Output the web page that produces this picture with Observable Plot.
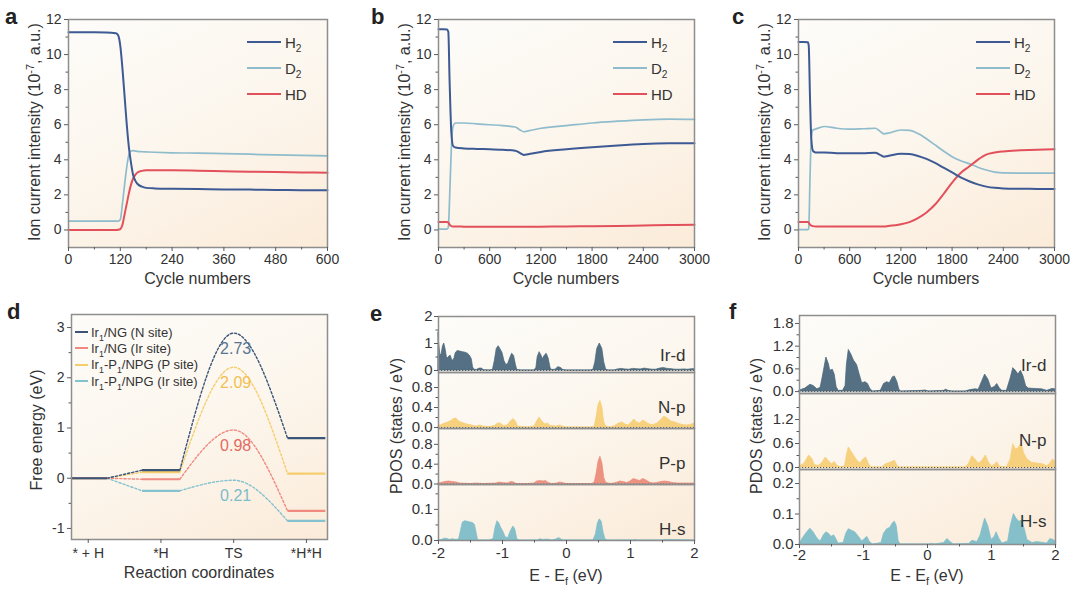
<!DOCTYPE html>
<html>
<head>
<meta charset="utf-8">
<script src="https://cdn.jsdelivr.net/npm/d3@7"></script>
<script src="https://cdn.jsdelivr.net/npm/@observablehq/plot@0.6"></script>
<style>
  body { margin: 0; background: #fff; }
  #fig { position: relative; width: 1080px; height: 590px; overflow: hidden;
         font-family: "Liberation Sans", Arial, Helvetica, sans-serif; color: #333; }
  .bg { position: absolute; background: linear-gradient(155deg, #fdfcf9 0%, #fcf6ed 50%, #fbebd9 100%); }
  .plot { position: absolute; }
  .letter { position: absolute; font-size: 22px; font-weight: bold; color: #222; line-height: 22px; }
  .title { position: absolute; white-space: nowrap; font-size: 16px; color: #333; line-height: 1; }
  .ytitle { transform: translate(-50%, -50%) rotate(-90deg); }
  .xtitle { transform: translate(-50%, -50%); }
  .legend { position: absolute; color: #333; }
  .legend .row { display: flex; align-items: center; }
  .legend .sw { display: inline-block; }
  sub, sup { font-size: 0.68em; line-height: 0; }
</style>
</head>
<body>
<div id="fig"></div>
<script>
// ---------- panels a–c: ion current vs cycle number ----------
const ionTicks = [0, 2, 4, 6, 8, 10, 12];
const ionMinor = [1, 3, 5, 7, 9, 11];

const cyclesA = [0, 60, 110, 115, 120, 125, 130, 135, 140, 145, 150, 155, 160, 170, 180, 200, 240, 300, 360, 420, 480, 540, 600];
const h2A = [11.28, 11.27, 11.22, 11.1, 10.5, 9.2, 7.6, 6.0, 4.7, 3.8, 3.1, 2.8, 2.62, 2.47, 2.4, 2.37, 2.35, 2.33, 2.31, 2.3, 2.28, 2.27, 2.26];
const d2A = [0.5, 0.5, 0.5, 0.5, 0.6, 1.5, 2.6, 3.6, 4.3, 4.5, 4.52, 4.5, 4.48, 4.46, 4.45, 4.43, 4.4, 4.38, 4.35, 4.32, 4.28, 4.25, 4.22];
const hdA = [0.0, 0.0, 0.0, 0.01, 0.05, 0.3, 0.9, 1.5, 2.1, 2.6, 2.95, 3.15, 3.28, 3.37, 3.4, 3.41, 3.4, 3.38, 3.35, 3.32, 3.3, 3.28, 3.26];
const cycleTicksA = [0, 120, 240, 360, 480, 600];
const cycleMinorA = [60, 180, 300, 420, 540];

const cyclesB = [0, 60, 100, 115, 130, 150, 170, 200, 300, 450, 600, 750, 900, 950, 1000, 1050, 1200, 1500, 1800, 2100, 2400, 2700, 3000];
const h2B = [11.45, 11.45, 11.43, 11.3, 8.5, 5.6, 4.8, 4.7, 4.65, 4.62, 4.6, 4.57, 4.52, 4.4, 4.28, 4.32, 4.45, 4.6, 4.72, 4.82, 4.9, 4.94, 4.95];
const d2B = [0.05, 0.05, 0.05, 0.15, 1.8, 4.6, 5.9, 6.1, 6.1, 6.05, 6.0, 5.95, 5.87, 5.72, 5.6, 5.65, 5.8, 5.95, 6.1, 6.2, 6.28, 6.32, 6.3];
const hdB = [0.45, 0.45, 0.45, 0.42, 0.3, 0.22, 0.2, 0.2, 0.19, 0.18, 0.18, 0.18, 0.18, 0.18, 0.18, 0.18, 0.19, 0.2, 0.21, 0.22, 0.25, 0.28, 0.3];

const cyclesC = [0, 60, 110, 120, 135, 150, 170, 200, 300, 450, 600, 750, 900, 950, 1000, 1050, 1200, 1300, 1400, 1500, 1600, 1700, 1800, 1900, 2000, 2100, 2200, 2300, 2400, 2600, 2800, 3000];
const h2C = [10.72, 10.72, 10.7, 10.5, 7.5, 5.2, 4.5, 4.42, 4.42, 4.38, 4.38, 4.38, 4.4, 4.3, 4.18, 4.22, 4.35, 4.33, 4.22, 4.05, 3.82, 3.55, 3.28, 3.0, 2.78, 2.6, 2.47, 2.4, 2.37, 2.35, 2.34, 2.33];
const d2C = [0.02, 0.02, 0.02, 0.1, 3.0, 5.3, 5.7, 5.75, 5.9, 5.8, 5.75, 5.77, 5.8, 5.65, 5.48, 5.52, 5.7, 5.68, 5.5, 5.2, 4.85, 4.5, 4.18, 3.95, 3.78, 3.58, 3.42, 3.3, 3.25, 3.24, 3.24, 3.24];
const hdC = [0.45, 0.45, 0.45, 0.42, 0.3, 0.25, 0.22, 0.2, 0.2, 0.2, 0.2, 0.2, 0.2, 0.2, 0.2, 0.22, 0.32, 0.45, 0.68, 1.0, 1.45, 2.05, 2.7, 3.25, 3.62, 4.0, 4.3, 4.42, 4.48, 4.54, 4.58, 4.6];
const cycleTicksBC = [0, 600, 1200, 1800, 2400, 3000];
const cycleMinorBC = [300, 900, 1500, 2100, 2700];

const gasColors = { H2: "#3d5a94", D2: "#8fbccc", HD: "#e2505b" };

// ---------- panel d: free-energy profile ----------
const stateNames = ["* + H", "*H", "TS", "*H*H"];
const statePos = [0, 1, 2, 3];
const siteNames = ["Ir<sub>1</sub>/NG (N site)", "Ir<sub>1</sub>/NG (Ir site)", "Ir<sub>1</sub>-P<sub>1</sub>/NPG (P site)", "Ir<sub>1</sub>-P<sub>1</sub>/NPG (Ir site)"];
const siteColors = ["#3b5576", "#f08a80", "#f6cd6e", "#84c2cf"];
const barrierColors = ["#557593", "#e46b5f", "#f2c050", "#7dbccb"];
const eStart = [0, 0, 0, 0];
const eAdsorbed = [0.16, -0.02, 0.12, -0.25];
const barriers = [2.73, 0.98, 2.09, 0.21];
const eFinal = [0.80, -0.65, 0.09, -0.85];
const energyTicks = [-1, 0, 1, 2, 3];
const energyMinor = [-0.5, 0.5, 1.5, 2.5];

// ---------- panels e, f: projected density of states ----------
const energyAxisTicks = [-2, -1, 0, 1, 2];
const energyAxisMinor = [-1.5, -0.5, 0.5, 1.5];

const eIrD = [[-2.00,1.40],[-1.99,1.0],[-1.97,0.55],[-1.95,0.62],[-1.93,0.9],[-1.91,1.0],[-1.89,0.8],[-1.87,0.5],[-1.85,0.45],[-1.83,0.52],[-1.81,0.55],[-1.79,0.42],[-1.77,0.35],[-1.75,0.45],[-1.73,0.65],[-1.70,0.72],[-1.66,0.7],[-1.62,0.68],[-1.58,0.66],[-1.54,0.62],[-1.51,0.55],[-1.48,0.42],[-1.46,0.12],[-1.44,0.03],[-1.40,0.02],[-1.36,0.07],[-1.32,0.07],[-1.29,0.01],[-1.20,0.0],[-1.15,0.02],[-1.12,0.35],[-1.09,0.8],[-1.06,0.9],[-1.03,0.78],[-1.00,0.65],[-0.97,0.35],[-0.94,0.2],[-0.91,0.25],[-0.88,0.45],[-0.85,0.62],[-0.82,0.55],[-0.79,0.2],[-0.77,0.02],[-0.70,0.0],[-0.50,0.0],[-0.47,0.1],[-0.45,0.5],[-0.42,0.68],[-0.39,0.55],[-0.37,0.42],[-0.34,0.55],[-0.31,0.62],[-0.28,0.45],[-0.25,0.1],[-0.23,0.02],[-0.17,0.03],[-0.13,0.12],[-0.09,0.1],[-0.05,0.02],[0.0,0.0],[0.38,0.0],[0.42,0.03],[0.45,0.3],[0.48,0.8],[0.52,1.0],[0.56,0.8],[0.59,0.3],[0.62,0.03],[0.66,0.0],[0.75,0.0],[0.8,0.04],[0.86,0.06],[0.92,0.04],[0.98,0.03],[1.04,0.06],[1.1,0.05],[1.16,0.04],[1.22,0.07],[1.28,0.05],[1.34,0.03],[1.40,0.03],[1.46,0.07],[1.52,0.09],[1.58,0.06],[1.64,0.05],[1.70,0.03],[1.78,0.03],[1.84,0.04],[1.90,0.03],[1.96,0.05],[2.0,0.05]];
const eNP = [[-2.0,0.02],[-1.95,0.05],[-1.9,0.08],[-1.85,0.1],[-1.8,0.13],[-1.76,0.17],[-1.72,0.18],[-1.68,0.12],[-1.64,0.1],[-1.6,0.08],[-1.55,0.06],[-1.5,0.05],[-1.45,0.03],[-1.4,0.02],[-1.35,0.04],[-1.3,0.02],[-1.2,0.01],[-1.12,0.03],[-1.07,0.08],[-1.03,0.08],[-0.98,0.03],[-0.92,0.04],[-0.87,0.12],[-0.83,0.17],[-0.79,0.12],[-0.76,0.02],[-0.6,0.0],[-0.5,0.02],[-0.46,0.12],[-0.42,0.2],[-0.38,0.12],[-0.33,0.06],[-0.29,0.08],[-0.25,0.03],[-0.15,0.02],[-0.1,0.04],[-0.06,0.02],[0.0,0.0],[0.4,0.0],[0.44,0.02],[0.47,0.2],[0.5,0.45],[0.53,0.53],[0.56,0.4],[0.59,0.1],[0.62,0.02],[0.7,0.0],[0.76,0.03],[0.82,0.08],[0.87,0.1],[0.92,0.06],[0.97,0.04],[1.02,0.1],[1.06,0.16],[1.1,0.1],[1.15,0.08],[1.2,0.14],[1.25,0.1],[1.3,0.06],[1.36,0.05],[1.42,0.08],[1.48,0.15],[1.53,0.22],[1.58,0.18],[1.64,0.12],[1.7,0.1],[1.76,0.07],[1.82,0.05],[1.88,0.04],[1.94,0.05],[2.0,0.08]];
const ePP = [[-2.0,0.01],[-1.95,0.02],[-1.9,0.04],[-1.84,0.05],[-1.78,0.04],[-1.72,0.03],[-1.66,0.01],[-1.5,0.0],[-1.4,0.01],[-1.3,0.0],[-1.1,0.01],[-1.05,0.03],[-1.0,0.02],[-0.92,0.01],[-0.86,0.04],[-0.82,0.03],[-0.78,0.0],[-0.6,0.0],[-0.5,0.01],[-0.46,0.05],[-0.41,0.06],[-0.36,0.05],[-0.32,0.06],[-0.28,0.02],[-0.22,0.0],[-0.15,0.01],[-0.1,0.03],[-0.06,0.02],[0.0,0.0],[0.4,0.0],[0.44,0.03],[0.47,0.2],[0.5,0.45],[0.53,0.55],[0.56,0.42],[0.59,0.12],[0.62,0.02],[0.7,0.0],[0.78,0.02],[0.84,0.05],[0.89,0.04],[0.95,0.02],[1.0,0.05],[1.05,0.1],[1.1,0.08],[1.15,0.06],[1.2,0.1],[1.25,0.07],[1.3,0.03],[1.36,0.01],[1.42,0.02],[1.48,0.04],[1.54,0.05],[1.6,0.04],[1.66,0.02],[1.75,0.01],[1.85,0.01],[2.0,0.01]];
const eHS = [[-2.0,0.0],[-1.95,0.002],[-1.9,0.006],[-1.86,0.005],[-1.82,0.002],[-1.78,0.004],[-1.72,0.002],[-1.68,0.003],[-1.65,0.03],[-1.62,0.058],[-1.58,0.062],[-1.54,0.06],[-1.5,0.058],[-1.46,0.056],[-1.43,0.05],[-1.4,0.02],[-1.38,0.0],[-1.2,0.0],[-1.14,0.005],[-1.11,0.04],[-1.08,0.062],[-1.05,0.055],[-1.02,0.04],[-0.99,0.03],[-0.95,0.01],[-0.91,0.008],[-0.87,0.03],[-0.83,0.045],[-0.8,0.035],[-0.77,0.005],[-0.74,0.0],[-0.45,0.0],[-0.41,0.004],[-0.36,0.002],[-0.3,0.003],[-0.22,0.0],[-0.15,0.004],[-0.12,0.008],[-0.09,0.005],[-0.05,0.0],[0.42,0.0],[0.46,0.02],[0.49,0.055],[0.52,0.068],[0.55,0.06],[0.58,0.025],[0.61,0.003],[0.65,0.0],[1.05,0.0],[1.08,0.002],[1.12,0.0],[1.5,0.0],[1.55,0.002],[2.0,0.0]];

const fIrD = [[-2.0,0.03],[-1.96,0.05],[-1.91,0.08],[-1.83,0.18],[-1.78,0.15],[-1.72,0.06],[-1.67,0.1],[-1.64,0.35],[-1.58,0.9],[-1.54,0.72],[-1.52,0.55],[-1.48,0.58],[-1.45,0.45],[-1.42,0.12],[-1.39,0.02],[-1.32,0.02],[-1.28,0.15],[-1.26,0.7],[-1.23,1.1],[-1.19,0.98],[-1.15,0.82],[-1.1,0.7],[-1.06,0.45],[-1.02,0.22],[-0.97,0.25],[-0.93,0.2],[-0.89,0.06],[-0.85,0.0],[-0.73,0.02],[-0.68,0.2],[-0.63,0.25],[-0.59,0.22],[-0.54,0.38],[-0.51,0.4],[-0.47,0.25],[-0.44,0.05],[-0.41,0.0],[-0.08,0.02],[-0.03,0.03],[0.02,0.0],[0.26,0.02],[0.29,0.05],[0.33,0.02],[0.39,0.0],[0.59,0.0],[0.67,0.04],[0.75,0.06],[0.8,0.05],[0.85,0.25],[0.9,0.45],[0.95,0.32],[1.0,0.08],[1.05,0.12],[1.09,0.2],[1.13,0.08],[1.17,0.02],[1.24,0.02],[1.3,0.35],[1.34,0.62],[1.38,0.55],[1.42,0.45],[1.46,0.55],[1.5,0.4],[1.54,0.15],[1.58,0.08],[1.69,0.07],[1.79,0.06],[1.87,0.02],[1.95,0.07],[2.0,0.06]];
const fNP = [[-2.0,0.02],[-1.92,0.1],[-1.85,0.3],[-1.8,0.22],[-1.76,0.06],[-1.7,0.04],[-1.64,0.12],[-1.59,0.25],[-1.54,0.15],[-1.49,0.08],[-1.45,0.14],[-1.41,0.05],[-1.36,0.0],[-1.29,0.03],[-1.26,0.3],[-1.23,0.5],[-1.19,0.4],[-1.15,0.3],[-1.1,0.18],[-1.05,0.1],[-1.0,0.2],[-0.96,0.25],[-0.92,0.1],[-0.88,0.0],[-0.71,0.0],[-0.66,0.07],[-0.58,0.12],[-0.51,0.17],[-0.47,0.05],[-0.44,0.0],[0.6,0.0],[0.65,0.1],[0.7,0.28],[0.74,0.22],[0.8,0.1],[0.85,0.15],[0.91,0.3],[0.96,0.12],[1.01,0.02],[1.06,0.08],[1.09,0.13],[1.13,0.02],[1.24,0.0],[1.3,0.2],[1.34,0.58],[1.38,0.45],[1.42,0.48],[1.47,0.6],[1.51,0.35],[1.56,0.2],[1.63,0.12],[1.71,0.1],[1.8,0.08],[1.87,0.03],[1.92,0.1],[1.96,0.2],[2.0,0.15]];
const fHS = [[-2.0,0.0],[-1.95,0.02],[-1.88,0.04],[-1.83,0.052],[-1.78,0.04],[-1.72,0.02],[-1.67,0.01],[-1.62,0.03],[-1.58,0.04],[-1.54,0.035],[-1.5,0.025],[-1.46,0.03],[-1.43,0.02],[-1.39,0.003],[-1.31,0.005],[-1.27,0.035],[-1.23,0.05],[-1.18,0.045],[-1.13,0.04],[-1.07,0.025],[-1.02,0.01],[-0.97,0.02],[-0.94,0.025],[-0.9,0.008],[-0.85,0.0],[-0.72,0.005],[-0.68,0.035],[-0.63,0.05],[-0.58,0.055],[-0.54,0.07],[-0.51,0.075],[-0.48,0.06],[-0.45,0.01],[-0.42,0.0],[0.02,0.0],[0.07,0.002],[0.12,0.0],[0.26,0.005],[0.31,0.018],[0.36,0.008],[0.41,0.0],[0.65,0.002],[0.7,0.012],[0.78,0.008],[0.83,0.03],[0.9,0.085],[0.95,0.06],[1.0,0.015],[1.05,0.025],[1.08,0.04],[1.12,0.02],[1.17,0.003],[1.26,0.01],[1.3,0.06],[1.35,0.1],[1.39,0.085],[1.43,0.075],[1.48,0.078],[1.52,0.05],[1.56,0.015],[1.64,0.005],[1.71,0.008],[1.79,0.006],[1.87,0.003],[1.92,0.018],[1.97,0.015],[2.0,0.01]];

const orbitalColors = { "Ir-d": "#46647a", "N-p": "#f6cd74", "P-p": "#eb8a78", "H-s": "#7bbcc8" };

// ---------- shared styling ----------
const FONT = '"Liberation Sans", Arial, Helvetica, sans-serif';
const FRAME = "#8e8e8e";
const TICK = "#5a5a5a";
const INK = "#333";
const fig = document.getElementById("fig");
const plain = (d) => String(d);
const oneDec = (d) => d.toFixed(1);

function style(size) {
  return { background: "transparent", fontFamily: FONT, fontSize: size + "px", color: INK, overflow: "visible" };
}
function place(node, left, top) {
  node.classList.add("plot");
  node.style.left = left + "px";
  node.style.top = top + "px";
  fig.appendChild(node);
}
function div(cls, left, top, inner, css = "") {
  const el = document.createElement("div");
  el.className = cls;
  el.style.cssText = `left:${left}px;top:${top}px;${css}`;
  el.innerHTML = inner;
  fig.appendChild(el);
  return el;
}
function backdrop(left, top, width, height) {
  div("bg", left, top, "", `width:${width}px;height:${height}px;`);
}
function majorMinorX(ticks, minor, fmt, size = 4, pad = 3) {
  return [
    Plot.axisX({ ticks, tickFormat: fmt, tickSize: size, tickPadding: pad, stroke: TICK, fill: INK, label: null }),
    Plot.axisX({ ticks: minor, tickSize: 2.5, stroke: TICK, fill: "none", label: null })
  ];
}
function majorMinorY(ticks, minor, fmt, pad = 3) {
  return [
    Plot.axisY({ ticks, tickFormat: fmt, tickSize: 4, tickPadding: pad, stroke: TICK, fill: INK, label: null }),
    Plot.axisY({ ticks: minor, tickSize: 2.5, stroke: TICK, fill: "none", label: null })
  ];
}
function gasLegend(left, top) {
  const rows = [["H2", "H<sub>2</sub>"], ["D2", "D<sub>2</sub>"], ["HD", "HD"]];
  div("legend", left, top, rows.map(([k, t]) =>
    `<div class="row" style="height:26px"><span class="sw" style="width:34px;height:2.5px;background:${gasColors[k]};margin-right:4px"></span><span style="font-size:15px">${t}</span></div>`
  ).join(""));
}

// ---------- a, b, c ----------
function cyclePanel(left, cycles, h2, d2, hd, ticks, minor) {
  const pts = (vals) => cycles.map((c, i) => ({ cycle: c, value: vals[i] }));
  const marginLeft = left === 0 ? 68 : 78;
  const marginRight = left === 0 ? 33 : 26;
  backdrop(left + marginLeft, 19, 360 - marginLeft - marginRight, 228);
  const svg = Plot.plot({
    width: 360, height: 300,
    marginLeft, marginRight, marginTop: 19, marginBottom: 53,
    style: style(14),
    x: { domain: [ticks[0], ticks[ticks.length - 1]] },
    y: { domain: [-1, 12] },
    marks: [
      Plot.line(pts(d2), { x: "cycle", y: "value", stroke: gasColors.D2, strokeWidth: 1.7, curve: "monotone-x" }),
      Plot.line(pts(hd), { x: "cycle", y: "value", stroke: gasColors.HD, strokeWidth: 2, curve: "monotone-x" }),
      Plot.line(pts(h2), { x: "cycle", y: "value", stroke: gasColors.H2, strokeWidth: 2, curve: "monotone-x" }),
      Plot.frame({ stroke: FRAME, strokeWidth: 1.5 }),
      ...majorMinorX(ticks, minor, plain),
      ...majorMinorY(ionTicks, ionMinor, plain)
    ]
  });
  place(svg, left, 0);
  const cx = left + marginLeft + (360 - marginLeft - marginRight) / 2;
  div("title xtitle", cx, 279, "Cycle numbers");
  div("title ytitle", left + marginLeft - 33, 132, "Ion current intensity (10<sup>-7</sup>, a.u.)");
}

cyclePanel(0, cyclesA, h2A, d2A, hdA, cycleTicksA, cycleMinorA);
cyclePanel(360, cyclesB, h2B, d2B, hdB, cycleTicksBC, cycleMinorBC);
cyclePanel(720, cyclesC, h2C, d2C, hdC, cycleTicksBC, cycleMinorBC);
gasLegend(247, 29);
gasLegend(613, 29);
gasLegend(976, 29);

// ---------- d ----------
{
  const half = 0.26;
  const levels = [];
  const paths = [];
  const labels = [];
  siteNames.forEach((site, i) => {
    const ts = eAdsorbed[i] + barriers[i];
    levels.push({ i, x1: statePos[0] - half, x2: statePos[0] + half, y: eStart[i] });
    levels.push({ i, x1: statePos[1] - half, x2: statePos[1] + half, y: eAdsorbed[i] });
    levels.push({ i, x1: statePos[3] - half, x2: statePos[3] + half, y: eFinal[i] });
    paths.push({ i, z: `${i}-a`, x: statePos[0] + half, y: eStart[i] });
    paths.push({ i, z: `${i}-a`, x: statePos[1] - half, y: eAdsorbed[i] });
    paths.push({ i, z: `${i}-b`, x: statePos[1] + half, y: eAdsorbed[i] });
    paths.push({ i, z: `${i}-b`, x: statePos[2], y: ts });
    paths.push({ i, z: `${i}-b`, x: statePos[3] - half, y: eFinal[i] });
    labels.push({ i, x: statePos[2], y: ts, text: barriers[i].toFixed(2) });
  });
  const order = [2, 3, 1, 0]; // dark N-site trace drawn last
  const byOrder = (arr) => order.flatMap((k) => arr.filter((d) => d.i === k));
  backdrop(71, 314, 256, 225);
  const svg = Plot.plot({
    width: 360, height: 290,
    marginLeft: 71, marginRight: 33, marginTop: 14, marginBottom: 51,
    style: style(14),
    x: { domain: [-0.23, 3.29] },
    y: { domain: [-1.22, 3.26] },
    marks: [
      Plot.line(byOrder(paths), { x: "x", y: "y", z: "z", stroke: (d) => siteColors[d.i], strokeWidth: 1.4, strokeDasharray: "2.2 2", curve: "monotone-x", clip: true }),
      Plot.link(byOrder(levels), { x1: "x1", x2: "x2", y1: "y", y2: "y", stroke: (d) => siteColors[d.i], strokeWidth: 2.2, clip: true }),
      Plot.text(labels, { x: "x", y: "y", text: "text", fill: (d) => barrierColors[d.i], dy: 16, dx: 2, fontSize: 16 }),
      Plot.frame({ stroke: FRAME, strokeWidth: 1.5 }),
      Plot.axisX({ ticks: statePos, tickFormat: (d) => stateNames[d], tickSize: 4, tickPadding: 5, stroke: TICK, fill: INK, label: null }),
      ...majorMinorY(energyTicks, energyMinor, plain)
    ]
  });
  place(svg, 0, 300);
  div("legend", 75, 324, siteNames.map((s, i) =>
    `<div class="row" style="height:16.3px"><span class="sw" style="width:13px;height:2px;background:${siteColors[i]};margin-right:3px"></span><span style="font-size:13px">${s}</span></div>`
  ).join(""));
  div("title xtitle", 199, 573, "Reaction coordinates");
  div("title ytitle", 37, 430, "Free energy (eV)");
}

// ---------- e, f ----------
function pdos(left, marginLeft, marginRight, top, height, spec, bottom) {
  const mt = 8, mb = bottom ? 40 : 0;
  const marks = [
    Plot.areaY(spec.data, { x: (d) => d[0], y: (d) => d[1], fill: orbitalColors[spec.orbital], fillOpacity: 0.92,
      stroke: orbitalColors[spec.orbital], strokeWidth: 0.7 }),
    Plot.ruleY([0], { stroke: "#555", strokeWidth: 1, strokeDasharray: "1.2 1.8" }),
    Plot.frame({ stroke: FRAME, strokeWidth: 1.5 }),
    ...majorMinorY(spec.ticks, spec.minor, spec.fmt, 2),
    Plot.text([spec.orbital], { frameAnchor: "right", textAnchor: "end", dx: -9, dy: spec.labelDy, fontSize: 17, fill: INK })
  ];
  if (bottom) marks.push(...majorMinorX(energyAxisTicks, energyAxisMinor, plain, 4, bottom.pad));
  const svg = Plot.plot({
    width: 360, height: mt + height + mb,
    marginLeft, marginRight, marginTop: mt, marginBottom: mb,
    style: style(15),
    x: { domain: [-2, 2], axis: bottom ? undefined : null },
    y: { domain: spec.domain },
    marks
  });
  place(svg, left, top - mt);
}

backdrop(438, 316, 256, 224);
pdos(360, 78, 26, 316, 56, { data: eIrD, orbital: "Ir-d", domain: [-0.074, 2], ticks: [0, 1, 2], minor: [0.5, 1.5], fmt: plain, labelDy: 11 });
pdos(360, 78, 26, 372, 56, { data: eNP, orbital: "N-p", domain: [-0.02, 1.1], ticks: [0, 0.4, 0.8], minor: [0.2, 0.6], fmt: oneDec, labelDy: 7 });
pdos(360, 78, 26, 428, 56, { data: ePP, orbital: "P-p", domain: [-0.01, 1.12], ticks: [0, 0.4, 0.8], minor: [0.2, 0.6], fmt: oneDec, labelDy: 7 });
pdos(360, 78, 26, 484, 56, { data: eHS, orbital: "H-s", domain: [0, 0.18], ticks: [0, 0.1], minor: [0.05, 0.15], fmt: oneDec, labelDy: 17 }, { pad: 3 });
div("title ytitle", 397, 426, "PDOS (states / eV)");
div("title xtitle", 566, 576, "E - E<sub>f</sub> (eV)");

backdrop(799, 315, 256, 229);
pdos(720, 79, 25, 315, 78, { data: fIrD, orbital: "Ir-d", domain: [-0.05, 2.01], ticks: [0, 0.6, 1.2, 1.8], minor: [0.3, 0.9, 1.5], fmt: oneDec, labelDy: 11 });
pdos(720, 79, 25, 393, 76, { data: fNP, orbital: "N-p", domain: [-0.05, 1.85], ticks: [0, 0.6, 1.2], minor: [0.3, 0.9, 1.5], fmt: oneDec, labelDy: 9 });
pdos(720, 79, 25, 469, 75, { data: fHS, orbital: "H-s", domain: [0, 0.246], ticks: [0, 0.1, 0.2], minor: [0.05, 0.15], fmt: oneDec, labelDy: 15 }, { pad: 1 });
div("title ytitle", 757, 426, "PDOS (states / eV)");
div("title xtitle", 927, 576, "E - E<sub>f</sub> (eV)");

// ---------- panel letters ----------
[["a", 5, 6], ["b", 371, 6], ["c", 732, 6], ["d", 7, 301], ["e", 370, 303], ["f", 729, 301]]
  .forEach(([t, x, y]) => div("letter", x, y, t));
</script>
</body>
</html>
